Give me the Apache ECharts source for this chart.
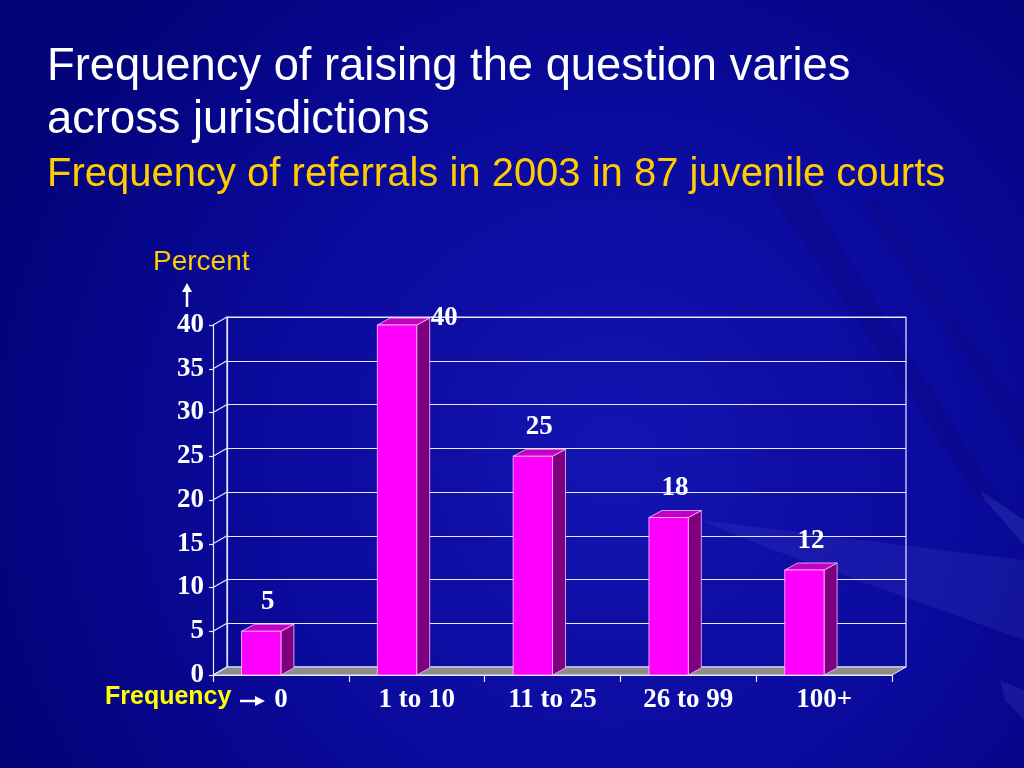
<!DOCTYPE html>
<html>
<head>
<meta charset="utf-8">
<script src="https://cdn.jsdelivr.net/npm/echarts@6/dist/echarts.min.js"></script>
<style>
  html, body { margin: 0; padding: 0; }
  #chart { width: 1024px; height: 768px; }
</style>
</head>
<body>
<div id="chart"></div>
<script>
  // data
  var categories = ['0', '1 to 10', '11 to 25', '26 to 99', '100+'];
  var percents = [5, 40, 25, 18, 12];
  var yTicks = [0, 5, 10, 15, 20, 25, 30, 35, 40];

  var DX = 14, DY = 8;      // wall depth
  var BDX = 13, BDY = 7;    // bar depth
  var lineCol = '#e8e8ff';
  var tnr = '"Liberation Serif", "Times New Roman", serif';
  var arial = '"Liberation Sans", Arial, sans-serif';

  var chart = echarts.init(document.getElementById('chart'));

  var option = {
    backgroundColor: {
      type: 'radial', x: 0.6, y: 0.6, r: 0.85,
      colorStops: [
        { offset: 0, color: '#1414b2' },
        { offset: 0.55, color: '#0a0a9c' },
        { offset: 1, color: '#03037a' }
      ]
    },
    graphic: [
      // faint streaks of the slide background
      { type: 'polygon', silent: true, z: -10,
        shape: { points: [[700, 520], [1024, 560], [1024, 640], [760, 545]] },
        style: { fill: 'rgba(140,150,255,0.09)' } },
      { type: 'polygon', silent: true, z: -10,
        shape: { points: [[980, 490], [1024, 520], [1024, 545], [985, 500]] },
        style: { fill: 'rgba(160,170,255,0.12)' } },
      { type: 'polygon', silent: true, z: -10,
        shape: { points: [[760, 180], [800, 180], [1000, 500], [980, 500]] },
        style: { fill: 'rgba(0,0,50,0.10)' } },
      { type: 'polygon', silent: true, z: -10,
        shape: { points: [[860, 200], [880, 200], [1024, 420], [1024, 450]] },
        style: { fill: 'rgba(0,0,50,0.08)' } },
      { type: 'polygon', silent: true, z: -10,
        shape: { points: [[1000, 680], [1024, 690], [1024, 720], [1005, 700]] },
        style: { fill: 'rgba(160,170,255,0.10)' } },
      // titles
      { type: 'text', left: 47, top: 41, scaleX: 0.964,
        style: { text: 'Frequency of raising the question varies\nacross jurisdictions',
          font: '47px ' + arial, lineHeight: 53, fill: '#ffffff',
          textShadowColor: 'rgba(0,0,40,0.9)', textShadowOffsetX: 2, textShadowOffsetY: 2 } },
      { type: 'text', left: 47, top: 155,
        style: { text: 'Frequency of referrals in 2003 in 87 juvenile courts',
          font: '40px ' + arial, fill: '#ffcc00',
          textShadowColor: 'rgba(0,0,40,0.9)', textShadowOffsetX: 2, textShadowOffsetY: 2 } },
      // axis captions
      { type: 'text', left: 153, top: 248,
        style: { text: 'Percent', font: '28px ' + arial, fill: '#ffcc00',
          textShadowColor: 'rgba(0,0,40,0.8)', textShadowOffsetX: 1, textShadowOffsetY: 1 } },
      { type: 'line', shape: { x1: 187, y1: 307, x2: 187, y2: 290 }, style: { stroke: '#fff', lineWidth: 2.5 } },
      { type: 'polygon', shape: { points: [[182, 292], [192, 292], [187, 283]] }, style: { fill: '#fff' } },
      { type: 'text', left: 105, top: 685,
        style: { text: 'Frequency', font: 'bold 25px ' + arial, fill: '#ffff00' } },
      { type: 'line', shape: { x1: 240, y1: 701, x2: 257, y2: 701 }, style: { stroke: '#fff', lineWidth: 2.5 } },
      { type: 'polygon', shape: { points: [[255, 696], [255, 706], [265, 701]] }, style: { fill: '#fff' } }
    ],
    grid: [
      { left: 213, top: 325, width: 679, height: 350 },
      { left: 213 + DX, top: 325 - DY, width: 679, height: 350, show: true,
        borderColor: lineCol, borderWidth: 1.2, backgroundColor: 'transparent' }
    ],
    xAxis: [
      { type: 'category', gridIndex: 0, data: categories, boundaryGap: true, z: 6,
        axisLine: { show: true, lineStyle: { color: lineCol, width: 1.2 } },
        axisTick: { show: true, length: 7, lineStyle: { color: lineCol, width: 1.2 } },
        axisLabel: { color: '#ffffff', fontSize: 27, fontWeight: 'bold', fontFamily: tnr, margin: 12 } },
      { type: 'category', gridIndex: 1, data: categories, show: false }
    ],
    yAxis: [
      { type: 'value', gridIndex: 0, min: 0, max: 40, interval: 5, z: 6,
        axisLine: { show: true, lineStyle: { color: lineCol, width: 1.2 } },
        axisTick: { show: true, length: 4, lineStyle: { color: lineCol, width: 1.2 } },
        splitLine: { show: false },
        axisLabel: { color: '#ffffff', fontSize: 27, fontWeight: 'bold', fontFamily: tnr, margin: 9 } },
      { type: 'value', gridIndex: 1, min: 0, max: 40, interval: 5,
        axisLine: { show: true, lineStyle: { color: lineCol, width: 1.2 } },
        axisTick: { show: false }, axisLabel: { show: false },
        splitLine: { show: true, lineStyle: { color: lineCol, width: 1.2 } } }
    ],
    series: [
      {
        // floor of the 3D plot
        type: 'custom', xAxisIndex: 0, yAxisIndex: 0, z: 1, silent: true,
        data: [[0, 0]],
        renderItem: function (params, api) {
          var cs = params.coordSys;
          var yb = cs.y + cs.height, x = cs.x, w = cs.width;
          return {
            type: 'polygon',
            shape: { points: [[x, yb], [x + w, yb], [x + w + DX, yb - DY], [x + DX, yb - DY]] },
            style: { fill: '#8c8c8c', stroke: lineCol, lineWidth: 1 }
          };
        }
      },
      {
        // slanted side-wall lines at each tick
        type: 'custom', xAxisIndex: 0, yAxisIndex: 0, z: 1, silent: true,
        data: yTicks.map(function (v) { return [0, v]; }),
        renderItem: function (params, api) {
          var cs = params.coordSys;
          var p = api.coord([0, api.value(1)]);
          return {
            type: 'line',
            shape: { x1: cs.x, y1: p[1], x2: cs.x + DX, y2: p[1] - DY },
            style: { stroke: lineCol, lineWidth: 1.2 }
          };
        }
      },
      {
        name: 'Percent', type: 'custom', xAxisIndex: 0, yAxisIndex: 0, z: 3,
        data: percents.map(function (v, i) { return [i, v]; }),
        renderItem: function (params, api) {
          var cat = api.value(0), val = api.value(1);
          var p0 = api.coord([cat, 0]);
          var p1 = api.coord([cat, val]);
          var w = api.size([1, 0])[0] * 0.29;
          var xr = p0[0], xl = xr - w, yb = p0[1], yt = p1[1];
          var edge = '#ffc0ff';
          var isMax = val >= Math.max.apply(null, percents);
          return {
            type: 'group',
            children: [
              { type: 'polygon',
                shape: { points: [[xr, yb], [xr + BDX, yb - BDY], [xr + BDX, yt - BDY], [xr, yt]] },
                style: { fill: '#7e007e', stroke: edge, lineWidth: 0.8 } },
              { type: 'polygon',
                shape: { points: [[xl, yt], [xr, yt], [xr + BDX, yt - BDY], [xl + BDX, yt - BDY]] },
                style: { fill: '#c400c4', stroke: edge, lineWidth: 0.8 } },
              { type: 'rect',
                shape: { x: xl, y: yt, width: w, height: yb - yt },
                style: { fill: '#ff00ff', stroke: edge, lineWidth: 0.8 } },
              { type: 'text',
                x: isMax ? xr + BDX + 1 : (xl + xr + BDX) / 2,
                y: isMax ? yt - BDY : yt - BDY - 22,
                style: { text: String(val), fill: '#ffffff', font: 'bold 27px ' + tnr,
                  align: isMax ? 'left' : 'center', verticalAlign: 'middle' } }
            ]
          };
        }
      }
    ]
  };

  chart.setOption(option);
</script>
</body>
</html>
